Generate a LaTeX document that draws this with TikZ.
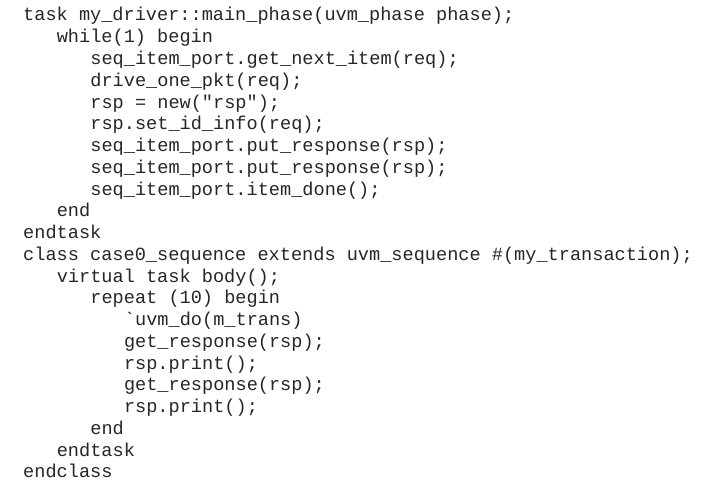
\documentclass[tikz,border=0pt]{standalone}
\usepackage{fontspec}
\newfontfamily\codefont{Liberation Mono}
\begin{document}
\begin{tikzpicture}[x=1pt,y=-1pt,code/.style={anchor=base west,inner sep=0pt,font=\codefont\fontsize{18.6}{20}\selectfont,text=black!85}]
\useasboundingbox (0,0) rectangle (721,489);
\def\cw{11.2}
\foreach \t/\ind [count=\i from 0] in {
{task my\_driver::main\_phase(uvm\_phase phase);}/0,
{while(1) begin}/1,
{seq\_item\_port.get\_next\_item(req);}/2,
{drive\_one\_pkt(req);}/2,
{rsp = new("rsp");}/2,
{rsp.set\_id\_info(req);}/2,
{seq\_item\_port.put\_response(rsp);}/2,
{seq\_item\_port.put\_response(rsp);}/2,
{seq\_item\_port.item\_done();}/2,
{end}/1,
{endtask}/0,
{class case0\_sequence extends uvm\_sequence \#(my\_transaction);}/0,
{virtual task body();}/1,
{repeat (10) begin}/2,
{`uvm\_do(m\_trans)}/3,
{get\_response(rsp);}/3,
{rsp.print();}/3,
{get\_response(rsp);}/3,
{rsp.print();}/3,
{end}/2,
{endtask}/1,
{endclass}/0}
  \node[code] (l\i) at ({23+3*\cw*\ind},{21+21.76*\i}) {\t};
\end{tikzpicture}
\end{document}
